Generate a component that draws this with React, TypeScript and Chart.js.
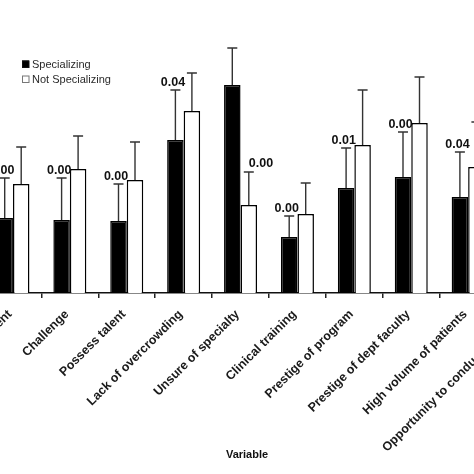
import React, { useEffect, useRef } from "react";
import { Chart, registerables } from "chart.js";

Chart.register(...registerables);

const categories = [
  "Intellectual content",
  "Challenge",
  "Possess talent",
  "Lack of overcrowding",
  "Unsure of specialty",
  "Clinical training",
  "Prestige of program",
  "Prestige of dept faculty",
  "High volume of patients",
  "Opportunity to conduct research",
];
const seriesNames = ["Specializing", "Not Specializing"];
const specializing = [1.5, 1.46, 1.44, 3.06, 4.16, 1.12, 2.1, 2.32, 1.92, null];
const specializingErr = [0.8, 0.84, 0.74, 1.0, 0.74, 0.42, 0.8, 0.9, 0.9, null];
const notSpecializing = [2.18, 2.48, 2.26, 3.64, 1.76, 1.58, 2.96, 3.4, 2.52, null];
const notSpecializingErr = [0.74, 0.66, 0.76, 0.76, 0.66, 0.62, 1.1, 0.92, 0.9, null];
const pValues = ["0.00", "0.00", "0.00", "0.04", "0.00", "0.00", "0.01", "0.00", "0.04", null];
const axisTitle = "Variable";

const FONT = '"Liberation Sans", Arial, sans-serif';

export default function App() {
  const ref = useRef<HTMLCanvasElement>(null);

  useEffect(() => {
    const canvas = ref.current;
    if (!canvas) return;
    const errs = [specializingErr, notSpecializingErr];

    const errorBars = {
      id: "errorBars",
      afterDatasetsDraw(chart: any) {
        const ctx = chart.ctx;
        const y = chart.scales.y;
        ctx.save();
        ctx.strokeStyle = "#333";
        ctx.lineWidth = 1.4;
        chart.data.datasets.forEach((ds: any, i: number) => {
          const meta = chart.getDatasetMeta(i);
          meta.data.forEach((bar: any, j: number) => {
            const v = ds.data[j];
            const e = errs[i][j];
            if (v == null || e == null) return;
            const cap = y.getPixelForValue(v + e);
            ctx.beginPath();
            ctx.moveTo(bar.x, bar.y);
            ctx.lineTo(bar.x, cap);
            ctx.moveTo(bar.x - 5, cap);
            ctx.lineTo(bar.x + 5, cap);
            ctx.stroke();
          });
        });
        ctx.restore();
      },
    };

    const pLabels = {
      id: "pLabels",
      afterDatasetsDraw(chart: any) {
        const ctx = chart.ctx;
        const y = chart.scales.y;
        const m0 = chart.getDatasetMeta(0);
        const m1 = chart.getDatasetMeta(1);
        ctx.save();
        ctx.font = `bold 12.5px ${FONT}`;
        ctx.fillStyle = "#111";
        ctx.textBaseline = "bottom";
        pValues.forEach((p, j) => {
          if (!p) return;
          const b = m0.data[j];
          const w = m1.data[j];
          const bv = specializing[j];
          const wv = notSpecializing[j];
          if (bv == null || wv == null) return;
          if (bv <= wv) {
            const cap = y.getPixelForValue(bv + (specializingErr[j] || 0));
            ctx.textAlign = "right";
            ctx.fillText(p, (b.x + w.x) / 2 + 1.5, cap - 1);
          } else {
            const cap = y.getPixelForValue(wv + (notSpecializingErr[j] || 0));
            ctx.textAlign = "left";
            ctx.fillText(p, w.x, cap - 2);
          }
        });
        ctx.restore();
      },
    };

    const legendPlugin = {
      id: "legendBox",
      afterDraw(chart: any) {
        const ctx = chart.ctx;
        const a = chart.chartArea;
        const x0 = a.left + 37.5;
        const y0 = a.top + 17.5;
        ctx.save();
        ctx.font = `11px ${FONT}`;
        ctx.textBaseline = "middle";
        ctx.textAlign = "left";
        chart.data.datasets.forEach((ds: any, i: number) => {
          const yy = y0 + i * 15;
          ctx.fillStyle = ds.backgroundColor;
          ctx.fillRect(x0, yy, 7, 7);
          ctx.strokeStyle = i === 0 ? "#111" : "#777";
          ctx.lineWidth = 1;
          ctx.strokeRect(x0 + 0.5, yy + 0.5, 6.5, 6.5);
          ctx.fillStyle = "#2a2a2a";
          ctx.fillText(ds.label, x0 + 10, yy + 4);
        });
        ctx.restore();
      },
    };

    const titlePlugin = {
      id: "xTitle",
      afterDraw(chart: any) {
        const ctx = chart.ctx;
        const s = chart.scales.x;
        ctx.save();
        ctx.font = `bold 11px ${FONT}`;
        ctx.fillStyle = "#111";
        ctx.textAlign = "center";
        ctx.textBaseline = "middle";
        ctx.fillText(axisTitle, (s.left + s.right) / 2 - 22, s.bottom - 10.6);
        ctx.restore();
      },
    };

    const chart = new Chart(canvas, {
      type: "bar",
      data: {
        labels: categories,
        datasets: [
          {
            label: seriesNames[0],
            data: specializing,
            backgroundColor: "#000",
            borderColor: "#000",
            borderWidth: 1.5,
          },
          {
            label: seriesNames[1],
            data: notSpecializing,
            backgroundColor: "#fff",
            borderColor: "#000",
            borderWidth: 1.5,
          },
        ],
      },
      options: {
        responsive: false,
        animation: false,
        layout: {
          padding: { left: 14.5, right: 16.5, top: 43, bottom: 8.4 },
          autoPadding: false,
        },
        datasets: { bar: { categoryPercentage: 0.58, barPercentage: 1 } },
        plugins: { legend: { display: false }, tooltip: { enabled: false } },
        scales: {
          x: {
            grid: {
              display: true,
              drawOnChartArea: false,
              drawTicks: true,
              tickLength: 5,
              color: "#222",
              lineWidth: 1.5,
            },
            border: { display: true, color: "#111", width: 1.5 },
            ticks: {
              autoSkip: false,
              maxRotation: 45,
              minRotation: 45,
              padding: 9,
              labelOffset: -3,
              color: "#1a1a1a",
              font: { family: FONT, size: 12.5, weight: "bold" },
            },
            afterFit: (s: any) => {
              s.height = 172.6;
              s.paddingLeft = 0;
              s.paddingRight = 0;
            },
          },
          y: { display: false, min: 0, max: 5 },
        },
      } as any,
      plugins: [errorBars, pLabels, legendPlugin, titlePlugin],
    });
    return () => chart.destroy();
  }, []);

  return (
    <div
      style={{
        position: "fixed",
        left: 0,
        top: 0,
        width: 474,
        height: 474,
        overflow: "hidden",
        background: "#fff",
      }}
    >
      <canvas
        ref={ref}
        width={600}
        height={474}
        style={{ position: "absolute", left: -30, top: 0, width: 600, height: 474 }}
      />
    </div>
  );
}
